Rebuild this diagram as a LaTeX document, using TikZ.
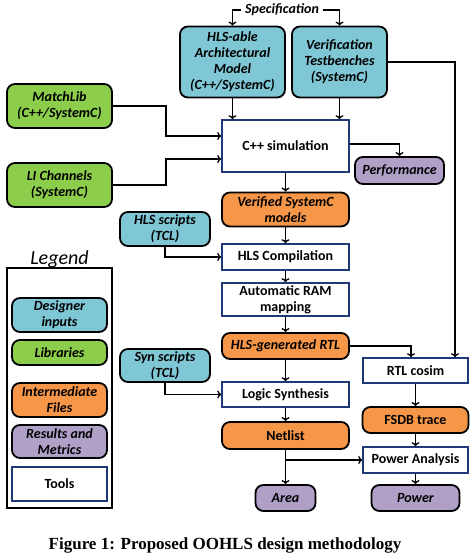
\documentclass[tikz,border=0pt]{standalone}
\usepackage{fontspec}
\setmainfont{Carlito}
\newfontfamily\capfont{Liberation Serif}
\usetikzlibrary{arrows.meta,positioning}
\tikzset{arrows={-{To[length=4pt,width=8pt]}}}
\definecolor{inblue}{RGB}{128,199,214}
\definecolor{libgreen}{RGB}{140,206,76}
\definecolor{midorange}{RGB}{246,150,72}
\definecolor{respurple}{RGB}{176,160,200}
\definecolor{toolblue}{RGB}{31,56,120}
\newcommand\boxfont{\fontsize{14}{16}\selectfont\bfseries}
\tikzset{
  blk/.style={draw, line width=1.8pt, rounded corners=8pt, align=center,
    font=\boxfont\itshape, inner sep=1pt},
  input/.style={blk, fill=inblue},
  lib/.style={blk, fill=libgreen},
  inter/.style={blk, fill=midorange},
  result/.style={blk, fill=respurple},
  tool/.style={draw=toolblue, line width=1.5pt, fill=white, align=center,
    font=\boxfont, inner sep=1pt},
  sz/.style 2 args={minimum width=#1pt, minimum height=#2pt}
}

\begin{document}
\begin{tikzpicture}[x=1pt, y=-1pt, line width=1.3pt]
    \useasboundingbox (0,0) rectangle (474,556);
    % inputs
    \node[font=\boxfont\itshape] (spec) at (282,10) {Specification};
    \node[input, sz={105}{71}] (hls) at (232.5,62) {HLS-able\\Architectural\\Model\\(C++/SystemC)};
    \node[input, sz={95}{71}] (verif) at (339.5,62) {Verification\\Testbenches\\(SystemC)};
    \node[lib, sz={105}{44}] (matchlib) at (59.5,106) {MatchLib\\(C++/SystemC)};
    \node[lib, sz={105}{44}] (lich) at (59.5,185) {LI Channels\\(SystemC)};
    % main flow
    \node[tool, sz={127}{52}] (csim) at (285.5,146) {C++ simulation};
    \node[result, sz={89}{27}] (perf) at (399.5,170.5) {Performance};
    \node[inter, sz={127}{34}] (vsc) at (285.5,209.5) {Verified SystemC\\models};
    \node[input, sz={90}{34}] (hlsscr) at (165,229) {HLS scripts\\(TCL)};
    \node[tool, sz={127}{26}] (hlscomp) at (285.5,257) {HLS Compilation};
    \node[tool, sz={127}{33}] (ram) at (285.5,299.5) {Automatic RAM\\mapping};
    \node[inter, sz={127}{26}] (rtl) at (285.5,346) {HLS-generated RTL};
    \node[tool, sz={105}{25}] (cosim) at (415.5,370.5) {RTL cosim};
    \node[input, sz={90}{33}] (synscr) at (165,365.5) {Syn scripts\\(TCL)};
    \node[tool, sz={127}{25}] (lsyn) at (285.5,394.5) {Logic Synthesis};
    \node[inter, sz={106}{26}, font=\boxfont] (fsdb) at (415.5,420) {FSDB trace};
    \node[inter, sz={127}{27}, font=\boxfont] (netlist) at (285.5,435.5) {Netlist};
    \node[tool, sz={105}{26}] (pwr) at (415.5,460) {Power Analysis};
    \node[result, sz={60}{26}] (area) at (285.5,498) {Area};
    \node[result, sz={88}{26}] (power) at (415.5,498) {Power};
    % legend
    \node[font=\fontsize{20}{22}\selectfont\itshape] (legtitle) at (59.5,259) {Legend};
    \node[draw, line width=1.8pt, sz={105}{240}] (legbox) at (59.5,388) {};
    \node[input, sz={95}{34}] (leg1) at (59.5,315) {Designer\\inputs};
    \node[lib, sz={95}{25}] (leg2) at (59.5,352.5) {Libraries};
    \node[inter, sz={95}{34}] (leg3) at (59.5,400) {Intermediate\\Files};
    \node[result, sz={95}{33}] (leg4) at (59.5,441.5) {Results and\\Metrics};
    \node[tool, sz={95}{34}] (leg5) at (59.5,484) {Tools};
    % caption
    \node[font=\capfont\fontsize{17}{19}\selectfont\bfseries] (caption) at (225,545) {Figure 1: Proposed OOHLS design methodology};

    \draw (spec.west) -| (hls.north);
    \draw (spec.east) -| (verif.north);
    \draw (hls.south) -- (hls.south |- csim.north);
    \draw (verif.south) -- (verif.south |- csim.north);
    \draw (verif.east) -| ([xshift=39.5pt]cosim.north);
    \draw (matchlib.east) -- ++(53,0) |- ([yshift=10pt]csim.west);
    \draw (lich.east) -- ++(53,0) |- ([yshift=-13pt]csim.west);
    \draw ([yshift=2pt]csim.east) -| (perf.north);
    \path (csim) edge (vsc)
          (vsc) edge (hlscomp)
          (hlscomp) edge (ram)
          (ram) edge (rtl)
          (rtl) edge (lsyn)
          (lsyn) edge (netlist)
          (cosim) edge (fsdb)
          (fsdb) edge (pwr)
          (pwr) edge (power)
          (netlist) edge (area);
    \draw (hlsscr.south) |- (hlscomp.west);
    \draw (synscr.south) |- (lsyn.west);
    \draw (rtl.east) -| ([xshift=-4.5pt]cosim.north);
    \draw (netlist.south |- pwr.west) -- (pwr.west);
\end{tikzpicture}
\end{document}
